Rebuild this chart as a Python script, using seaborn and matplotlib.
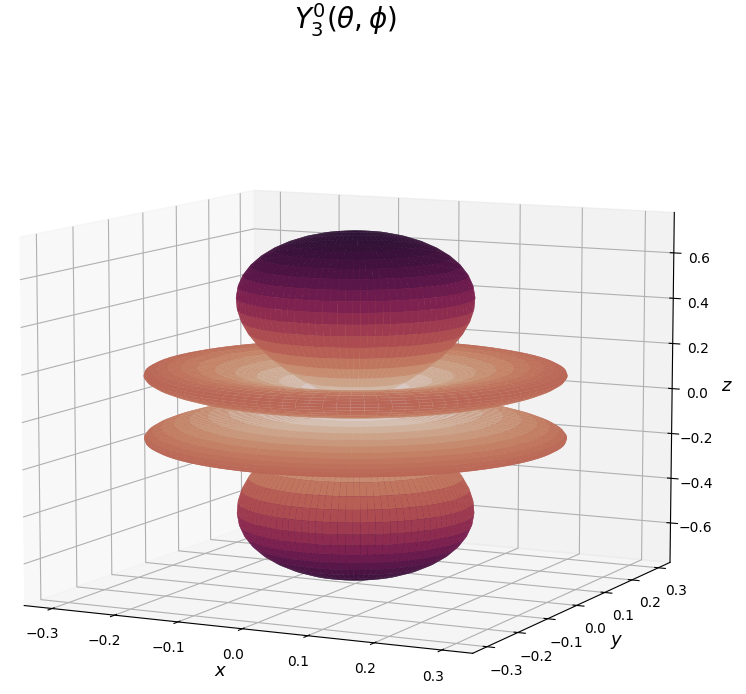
import numpy as np
import matplotlib
matplotlib.use("Agg")
import matplotlib.pyplot as plt
import seaborn as sns

# polar angle (deg) and |Y| read along the upper half of the profile
theta_deg = [0, 2, 4, 6, 8, 10, 12, 14, 16, 18, 20, 22, 24, 26, 28, 30, 32, 34, 36, 38, 40, 42, 44,
             46, 48, 50, 52, 54, 56, 58, 60, 62, 64, 66, 68, 70, 72, 74, 76, 78, 80, 82, 84, 86, 88, 90]
radius = [.7464, .7437, .7355, .7220, .7033, .6796, .6512, .6183, .5812, .5404, .4963, .4493,
          .3999, .3486, .2959, .2424, .1886, .1351, .0823, .0308, .0188, .0662, .1108,
          .1522, .1901, .2241, .2538, .2791, .2998, .3156, .3266, .3325, .3336, .3298,
          .3213, .3083, .2909, .2695, .2444, .2160, .1846, .1508, .1149, .0775, .0390, 0.0]
x_ticks = [-0.3, -0.2, -0.1, 0.0, 0.1, 0.2, 0.3]
y_ticks = [-0.3, -0.2, -0.1, 0.0, 0.1, 0.2, 0.3]
z_ticks = [-0.6, -0.4, -0.2, 0.0, 0.2, 0.4, 0.6]

# lower half is the mirror of the upper one
th = np.radians(np.array(theta_deg + [180 - t for t in theta_deg[-2::-1]]))
r = np.array(radius + radius[-2::-1])
phi = np.radians(np.arange(0, 363, 3.6))

T, P = np.meshgrid(th, phi, indexing="ij")
R = np.repeat(r[:, None], len(phi), axis=1)
X = R * np.sin(T) * np.cos(P)
Y = R * np.sin(T) * np.sin(P)
Z = R * np.cos(T)

sns.reset_orig()
cmap = plt.get_cmap("twilight")

fig = plt.figure(figsize=(7.46, 6.94), dpi=100)
ax = fig.add_axes([-0.048, -0.141, 1.022, 1.085], projection="3d")
# upper half of twilight: light at |Y|=0, dark purple at the peak
ax.plot_surface(X, Y, Z, facecolors=cmap(1 - 0.5 * R / R.max()), rstride=1, cstride=1,
                linewidth=0, shade=False)
ax.view_init(elev=9, azim=-63.5)
ax.set_xticks(x_ticks)
ax.set_yticks(y_ticks)
ax.set_zticks(z_ticks)
ax.set_xlabel("$x$", fontsize=13)
ax.set_ylabel("$y$", fontsize=13)
ax.set_zlabel("$z$", fontsize=13)
fig.text(0.463, 0.971, r"$Y_3^0(\theta, \phi)$", fontsize=20, ha="center", va="center")
plt.savefig("out.png", dpi=100)
